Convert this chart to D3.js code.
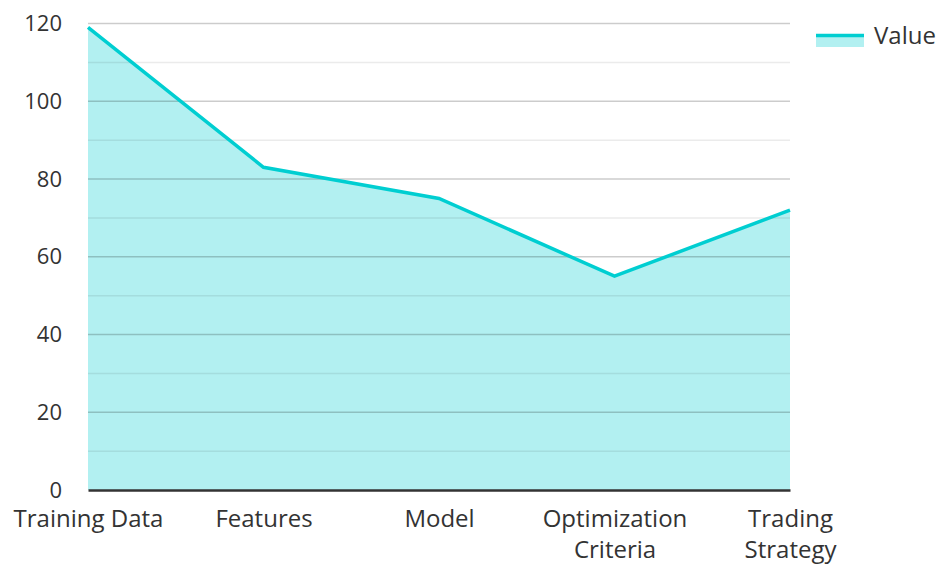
<!DOCTYPE html>
<html>
<head>
<meta charset="utf-8">
<script src="https://cdn.jsdelivr.net/npm/d3@7"></script>
<style>
  body { margin: 0; background: #fff; }
  svg { font-family: "Open Sans", "Noto Sans", sans-serif; }
</style>
</head>
<body>
<div id="chart"></div>
<script>
const categories = ["Training Data", "Features", "Model", "Optimization Criteria", "Trading Strategy"];
const values = [119, 83, 75, 55, 72];
const yTicks = [0, 20, 40, 60, 80, 100, 120];
const minorTicks = [10, 30, 50, 70, 90, 110];
const seriesName = "Value";

const width = 939, height = 564;
const margin = { top: 23.5, right: 149, bottom: 74, left: 88 };
const color = "#00CED1";
const textColor = "#333";

const svg = d3.select("#chart").append("svg")
    .attr("width", width).attr("height", height);

const x = d3.scalePoint().domain(categories).range([margin.left, width - margin.right]).padding(0);
const y = d3.scaleLinear().domain([0, 120]).range([height - margin.bottom, margin.top]);

// area fill
const area = d3.area()
    .x((d, i) => x(categories[i]))
    .y0(y(0))
    .y1(d => y(d));
svg.append("path")
    .datum(values)
    .attr("d", area)
    .attr("fill", color)
    .attr("fill-opacity", 0.3);

// grid
svg.append("g").selectAll("line")
    .data(minorTicks)
    .join("line")
    .attr("x1", margin.left).attr("x2", width - margin.right)
    .attr("y1", d => y(d)).attr("y2", d => y(d))
    .attr("stroke", "#000").attr("stroke-opacity", 0.08).attr("stroke-width", 1.5);
svg.append("g").selectAll("line")
    .data(yTicks.filter(d => d > 0))
    .join("line")
    .attr("x1", margin.left).attr("x2", width - margin.right)
    .attr("y1", d => y(d)).attr("y2", d => y(d))
    .attr("stroke", "#000").attr("stroke-opacity", 0.2).attr("stroke-width", 1.5);

// line
const line = d3.line()
    .x((d, i) => x(categories[i]))
    .y(d => y(d));
svg.append("path")
    .datum(values)
    .attr("d", line)
    .attr("fill", "none")
    .attr("stroke", color)
    .attr("stroke-width", 3.5);

// y axis labels
const yAxis = d3.axisLeft(y).tickValues(yTicks).tickSize(0).tickPadding(26);
const yG = svg.append("g").attr("transform", `translate(${margin.left},0)`).call(yAxis);
yG.select(".domain").remove();
yG.selectAll("text").attr("font-size", 22).attr("fill", textColor).attr("font-family", "\"Open Sans\", sans-serif");

// x axis
const xAxis = d3.axisBottom(x).tickSize(0).tickPadding(20);
const xG = svg.append("g").attr("transform", `translate(0,${y(0)})`).call(xAxis);
xG.select(".domain").attr("stroke", textColor).attr("stroke-width", 2.5);
xG.selectAll("text")
    .attr("font-size", 24).attr("fill", textColor).attr("font-family", "\"Open Sans\", sans-serif")
    .each(function(d) {
        const t = d3.select(this);
        const words = d.split(" ");
        if (d === "Training Data") return;
        if (words.length > 1) {
            t.text(null);
            words.forEach((w, i) => {
                t.append("tspan").attr("x", 0).attr("dy", i === 0 ? "0.71em" : "1.3em").text(w);
            });
            t.attr("dy", null);
        }
    });

// legend
const lg = svg.append("g").attr("transform", "translate(816,34)");
lg.append("rect").attr("x", 0).attr("y", 0).attr("width", 48).attr("height", 13)
    .attr("fill", color).attr("fill-opacity", 0.3);
lg.append("line").attr("x1", 0).attr("x2", 48).attr("y1", 1.5).attr("y2", 1.5)
    .attr("stroke", color).attr("stroke-width", 3.5);
lg.append("text").attr("x", 58).attr("y", 2).attr("dy", "0.35em")
    .attr("font-size", 24).attr("fill", textColor).text(seriesName);
</script>
</body>
</html>
